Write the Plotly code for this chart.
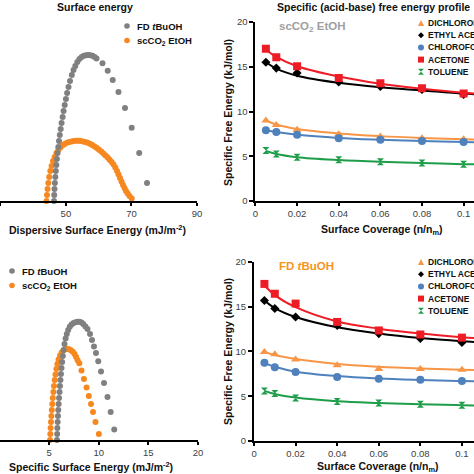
import plotly.graph_objects as go

# ---------------- data ----------------
# Dispersive surface energy distribution (top-left), x in mJ/m2, y arbitrary area increment
disp_fd_x = [46.38, 46.44, 46.53, 46.65, 46.77, 46.92, 47.08, 47.26, 47.47, 47.69, 47.90, 48.14,
             48.42, 48.69, 49.00, 49.30, 49.64, 50.01, 50.37, 50.80, 51.26, 51.81, 52.33, 52.87,
             53.48, 54.13, 54.80, 55.47, 56.14, 56.81, 57.48, 58.12, 58.76, 59.34, 61.17, 62.76,
             64.29, 66.05, 68.04, 70.08, 72.37, 74.75]
disp_fd_y = [0, 6, 12, 18, 24, 30, 36, 42, 48, 54, 60, 66, 72, 78, 84, 90, 96, 102, 108, 114,
             120, 126, 131, 135, 139, 142, 144, 145.2, 145.8, 146, 145.8, 145.2, 144, 142.5,
             137.7, 130.3, 121, 109, 93, 73.3, 48, 18]
disp_sc_x = [44.09, 44.24, 44.42, 44.64, 44.91, 45.25, 45.64, 46.07, 46.56, 47.11, 47.69, 48.30,
             48.94, 49.61, 50.31, 51.01, 51.71, 52.42, 53.12, 53.82, 54.52, 55.22, 55.92, 56.63,
             57.33, 58.03, 58.73, 59.43, 60.10, 60.78, 61.45, 62.09, 62.73, 63.34, 63.95, 64.53,
             65.08, 65.60, 66.05, 66.51, 66.97, 67.43, 67.88, 68.34, 68.86, 69.41, 70.08]
disp_sc_y = [0, 6, 12, 18, 24, 30, 35, 40, 44, 48, 51, 53.5, 55.5, 57, 58.2, 59, 59.6, 60, 60.2,
             60.2, 60.0, 59.6, 59.0, 58.2, 57.2, 56.0, 54.6, 53.0, 51.2, 49.4, 47.5, 45.5, 43.5,
             41.2, 39.0, 36.5, 33.5, 30.0, 26.5, 23.0, 19.5, 16.0, 13.0, 10.0, 7.5, 5.0, 2.5]

# Specific surface energy distribution (bottom-left)
spec_fd_x = [5.79, 5.81, 5.83, 5.86, 5.89, 5.92, 5.96, 6.00, 6.05, 6.09, 6.14, 6.19, 6.25, 6.31,
             6.38, 6.46, 6.55, 6.66, 6.78, 6.92, 7.08, 7.26, 7.46, 7.66, 7.86, 8.06, 8.26, 8.44,
             8.66, 8.87, 9.12, 9.32, 9.52, 9.72, 9.95, 10.23, 10.53, 10.88, 11.20, 11.56]
spec_fd_y = [0, 6, 12, 18, 24, 30, 36, 42, 48, 54, 60, 66, 72, 78, 84, 90, 96, 101.5, 106, 110,
             113.2, 115.5, 117, 117.8, 118.2, 118.2, 117.5, 116, 113.5, 111, 106, 100, 93.5, 87,
             78.7, 68.5, 57, 43, 28, 10.5]
spec_sc_x = [5.09, 5.12, 5.15, 5.19, 5.23, 5.27, 5.32, 5.37, 5.43, 5.49, 5.56, 5.64, 5.73, 5.83,
             5.95, 6.10, 6.26, 6.44, 6.63, 6.82, 7.01, 7.20, 7.39, 7.56, 7.72, 7.87, 8.04, 8.26,
             8.51, 8.77, 9.00, 9.22, 9.42, 9.67, 10.01]
spec_sc_y = [0, 6, 12, 18, 24, 30, 36, 42, 48, 54, 60, 65.5, 71, 76, 80.5, 84.5, 87.5, 89.5, 90.7,
             91, 90.7, 89.8, 88.2, 86, 83, 79.7, 76.7, 69.5, 61, 52.5, 44, 36, 28, 18, 6]

series_names = ["FD <i>t</i>BuOH", "scCO<sub>2</sub> EtOH"]

# Specific (acid-base) free energy profiles, kJ/mol
coverage = [0.005, 0.01, 0.02, 0.04, 0.06, 0.08, 0.1]
fit_coverage = [0.005, 0.01, 0.02, 0.04, 0.06, 0.08, 0.1, 0.12]
solvents = ["DICHLOROMETHANE", "ETHYL ACETATE", "CHLOROFORM", "ACETONE", "TOLUENE"]

sc_dcm = [9.0, 8.5, 7.95, 7.45, 7.2, 7.0, 6.9]
sc_ea = [15.5, 14.85, 14.3, 13.3, 12.8, 12.45, 11.9]
sc_chl = [7.9, 7.7, 7.4, 7.0, 6.85, 6.7, 6.6]
sc_ace = [17.0, 16.05, 15.05, 13.75, 13.15, 12.6, 12.0]
sc_tol = [5.65, 5.25, 4.9, 4.6, 4.4, 4.25, 4.1]
sc_dcm_fit = [9.0, 8.55, 8.05, 7.55, 7.25, 7.05, 6.9, 6.78]
sc_ea_fit = [15.5, 14.8, 14.0, 13.2, 12.7, 12.35, 12.0, 11.75]
sc_chl_fit = [7.9, 7.7, 7.4, 7.05, 6.85, 6.7, 6.6, 6.5]
sc_ace_fit = [16.9, 16.1, 15.05, 13.9, 13.1, 12.55, 12.1, 11.8]
sc_tol_fit = [5.6, 5.25, 4.9, 4.58, 4.38, 4.24, 4.12, 4.02]

fd_dcm = [9.95, 9.7, 9.1, 8.45, 8.05, 8.05, 7.95]
fd_ea = [15.7, 14.8, 13.85, 12.9, 12.0, 11.45, 11.0]
fd_chl = [8.75, 8.25, 7.7, 7.15, 6.95, 6.85, 6.7]
fd_ace = [17.55, 16.45, 15.35, 13.3, 12.35, 11.9, 11.55]
fd_tol = [5.6, 5.3, 4.8, 4.4, 4.25, 4.1, 4.0]
fd_dcm_fit = [9.95, 9.6, 9.15, 8.6, 8.3, 8.1, 7.95, 7.85]
fd_ea_fit = [15.7, 14.85, 13.85, 12.7, 12.0, 11.5, 11.15, 10.9]
fd_chl_fit = [8.7, 8.3, 7.75, 7.25, 6.98, 6.82, 6.7, 6.6]
fd_ace_fit = [17.4, 16.3, 14.95, 13.35, 12.55, 12.0, 11.6, 11.3]
fd_tol_fit = [5.6, 5.25, 4.85, 4.45, 4.25, 4.1, 4.0, 3.92]

cov_tickvals = [0, 0.02, 0.04, 0.06, 0.08, 0.1]
cov_ticktext = ["0", "0.02", "0.04", "0.06", "0.08", "0.1"]

# ---------------- styling ----------------
FONT = "Arial, 'Liberation Sans', sans-serif"
GRAY = "#808080"
ORANGE_DOT = "#F7881F"
sol_colors = ["#F79646", "#000000", "#4F81BD", "#EE1C25", "#1E9E4A"]
sol_symbols = ["triangle-up", "diamond", "circle", "square", "hourglass"]
sol_sizes = [8, 7, 8, 8, 7]

W = 474.0

fig = go.Figure()

# left panels: distributions (orange first, gray on top)
fig.add_trace(go.Scatter(x=disp_sc_x, y=disp_sc_y, mode="markers", xaxis="x", yaxis="y",
                         marker=dict(color=ORANGE_DOT, size=6), cliponaxis=False, showlegend=False))
fig.add_trace(go.Scatter(x=disp_fd_x, y=disp_fd_y, mode="markers", xaxis="x", yaxis="y",
                         marker=dict(color=GRAY, size=6), cliponaxis=False, showlegend=False))
fig.add_trace(go.Scatter(x=spec_sc_x, y=spec_sc_y, mode="markers", xaxis="x2", yaxis="y2",
                         marker=dict(color=ORANGE_DOT, size=6), cliponaxis=False, showlegend=False))
fig.add_trace(go.Scatter(x=spec_fd_x, y=spec_fd_y, mode="markers", xaxis="x2", yaxis="y2",
                         marker=dict(color=GRAY, size=6), cliponaxis=False, showlegend=False))

# right panels: profiles
sc_pts = [sc_dcm, sc_ea, sc_chl, sc_ace, sc_tol]
sc_fit = [sc_dcm_fit, sc_ea_fit, sc_chl_fit, sc_ace_fit, sc_tol_fit]
fd_pts = [fd_dcm, fd_ea, fd_chl, fd_ace, fd_tol]
fd_fit = [fd_dcm_fit, fd_ea_fit, fd_chl_fit, fd_ace_fit, fd_tol_fit]
for pts, fits, xa, ya in [(sc_pts, sc_fit, "x3", "y3"), (fd_pts, fd_fit, "x4", "y4")]:
    for i, name in enumerate(solvents):
        fig.add_trace(go.Scatter(x=fit_coverage, y=fits[i], mode="lines", xaxis=xa, yaxis=ya,
                                 line=dict(color=sol_colors[i], width=2, shape="spline"),
                                 showlegend=False, hoverinfo="skip"))
        fig.add_trace(go.Scatter(x=coverage, y=pts[i], mode="markers", xaxis=xa, yaxis=ya,
                                 name=name, showlegend=False,
                                 marker=dict(color=sol_colors[i], symbol=sol_symbols[i],
                                             size=sol_sizes[i])))

tickfont = dict(family=FONT, size=9.5, color="#404040")
xline = dict(showline=True, linecolor="black", linewidth=2, ticks="outside", ticklen=3,
             tickwidth=1.5, tickcolor="black", showgrid=False, zeroline=False, tickfont=tickfont)
yline = dict(showline=True, linecolor="black", linewidth=2, ticks="outside", ticklen=4,
             tickwidth=1.5, tickcolor="black", showgrid=False, zeroline=False, tickfont=tickfont)

fig.update_layout(
    width=474, height=474, margin=dict(l=0, r=0, t=0, b=0, autoexpand=False),
    paper_bgcolor="white", plot_bgcolor="white", showlegend=False,
    font=dict(family=FONT),
    xaxis=dict(domain=[0, 0.4156], range=[29.9, 90], dtick=20, tick0=10, anchor="y", **xline),
    yaxis=dict(domain=[0.5759, 0.958], range=[0, 181], visible=False, anchor="x"),
    xaxis2=dict(domain=[0, 0.4177], range=[0.05, 20], dtick=5, tick0=0, anchor="y2", **xline),
    yaxis2=dict(domain=[0.0717, 0.4515], range=[0, 180], visible=False, anchor="x2"),
    xaxis3=dict(domain=[0.539, 1], range=[0, 0.105], tickvals=cov_tickvals, ticktext=cov_ticktext,
                anchor="y3", **xline),
    yaxis3=dict(domain=[0.5759, 0.9536], range=[0, 20], tickvals=[0, 5, 10, 15, 20], anchor="x3", **yline),
    xaxis4=dict(domain=[0.5359, 1], range=[0, 0.1058], tickvals=cov_tickvals, ticktext=cov_ticktext,
                anchor="y4", **xline),
    yaxis4=dict(domain=[0.0696, 0.4473], range=[0, 20], tickvals=[0, 5, 10, 15, 20], anchor="x4", **yline),
)

ann = []
def A(text, xpx, ypx, size=10.5, color="#111111", xanchor="center", angle=0):
    ann.append(dict(text=f"<b>{text}</b>", x=xpx / W, y=1 - ypx / W,
                    xref="paper", yref="paper", xanchor=xanchor, yanchor="middle",
                    showarrow=False, textangle=angle,
                    font=dict(family=FONT, size=size, color=color)))

shapes = []
def P(x, y):
    return f"{x / W:.5f},{1 - y / W:.5f}"
def key(symbol, cx, cy, r, color):
    base = dict(xref="paper", yref="paper", fillcolor=color, line=dict(width=0), layer="above")
    if symbol == "circle":
        shapes.append(dict(type="circle", x0=(cx - r) / W, x1=(cx + r) / W,
                           y0=1 - (cy + r) / W, y1=1 - (cy - r) / W, **base))
    elif symbol == "square":
        shapes.append(dict(type="rect", x0=(cx - r) / W, x1=(cx + r) / W,
                           y0=1 - (cy + r) / W, y1=1 - (cy - r) / W, **base))
    elif symbol == "triangle-up":
        shapes.append(dict(type="path", path=f"M {P(cx - r, cy + r)} L {P(cx + r, cy + r)} L {P(cx, cy - r)} Z", **base))
    elif symbol == "diamond":
        shapes.append(dict(type="path", path=f"M {P(cx, cy - r)} L {P(cx + r, cy)} L {P(cx, cy + r)} L {P(cx - r, cy)} Z", **base))
    else:  # hourglass
        shapes.append(dict(type="path", path=f"M {P(cx - r, cy - r)} L {P(cx + r, cy - r)} L {P(cx - r, cy + r)} L {P(cx + r, cy + r)} Z", **base))

A("Surface energy", 95, 7)
A("Specific (acid-base) free energy profile", 275, 7, size=10.5, xanchor="left")
A("Dispersive Surface Energy (mJ/m<sup>-2</sup>)", 97, 229)
A("Surface Coverage (n/n<sub>m</sub>)", 381, 230)
A("Specific Surface Energy (mJ/m<sup>-2</sup>)", 91, 466)
A("Surface Coverage (n/n<sub>m</sub>)", 377, 467)
A("Specific Free Energy (kJ/mol)", 228, 113, angle=-90)
A("Specific Free Energy (kJ/mol)", 228, 352, angle=-90)
A("scCO<sub>2</sub> EtOH", 277, 27, size=11.5, color="#A0A0A0", xanchor="left")
A("FD <i>t</i>BuOH", 277, 266, size=11.5, color="#F7941D", xanchor="left")

# left legends
for (lx, ly) in [(127, 26), (12, 271)]:
    for k, (nm, col) in enumerate(zip(series_names, [GRAY, ORANGE_DOT])):
        key("circle", lx, ly + 14.5 * k, 2.8, col)
        A(nm, lx + 8, ly + 14.5 * k, size=9.5, color="#111111", xanchor="left")

# right legends
for ly0 in [23, 262]:
    for k, nm in enumerate(solvents):
        key(sol_symbols[k], 421, ly0 + 12.2 * k, 3.0, sol_colors[k])
        A(nm, 425.5, ly0 + 12.2 * k, size=8.5, color="#111111", xanchor="left")

fig.update_layout(annotations=ann, shapes=shapes)
fig.write_html("out.html")
